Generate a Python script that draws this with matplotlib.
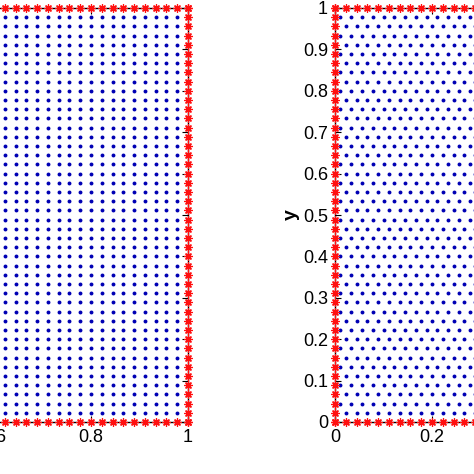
import numpy as np
import matplotlib.pyplot as plt

plt.rcParams['font.family'] = ['Liberation Sans', 'DejaVu Sans']

# mesh settings
n_div = 45
x_ticks = [0, 0.2, 0.4, 0.6, 0.8, 1]
y_ticks = [0, 0.1, 0.2, 0.3, 0.4, 0.5, 0.6, 0.7, 0.8, 0.9, 1]
x_labels = ['0', '0.2', '0.4', '0.6', '0.8', '1']
y_labels = ['0', '0.1', '0.2', '0.3', '0.4', '0.5', '0.6', '0.7', '0.8', '0.9', '1']

h = 1.0 / n_div
edge = np.linspace(0, 1, n_div + 1)
inner = edge[1:-1]

# boundary nodes (same on both panels)
bx = np.concatenate([edge, edge, np.zeros(n_div + 1), np.ones(n_div + 1)])
by = np.concatenate([np.zeros(n_div + 1), np.ones(n_div + 1), edge, edge])

# left panel: regular interior grid
gx, gy = np.meshgrid(inner, inner)
ux, uy = gx.ravel(), gy.ravel()

# right panel: staggered interior rows
sx, sy = [], []
for j, yv in enumerate(inner, start=1):
    if j % 2 == 1:
        xs = inner
    else:
        xs = edge[:-1] + h / 2
    sx.extend(xs)
    sy.extend([yv] * len(xs))

W = H = 474
fig = plt.figure(figsize=(W / 100, H / 100), dpi=100)
ax_l = fig.add_axes([-297 / W, 52 / H, 485 / W, 414 / H])
ax_r = fig.add_axes([335 / W, 52 / H, 485 / W, 414 / H])


def draw(ax, px, py):
    ax.plot(px, py, 'o', color='#0000b4', ms=2.8, mew=0, zorder=2)
    ax.plot(bx, by, linestyle='none', marker=(8, 2, 0), color='#ff1010',
            ms=5.8, mew=0.9, clip_on=False, zorder=4)
    ax.set_xlim(0, 1)
    ax.set_ylim(0, 1)
    ax.set_xticks(x_ticks)
    ax.set_xticklabels(x_labels)
    ax.set_yticks(y_ticks)
    ax.set_yticklabels(y_labels)
    ax.tick_params(direction='in', length=4, width=0.8, top=True, right=True,
                   labelsize=13, pad=5)
    for s in ax.spines.values():
        s.set_linewidth(1)
        s.set_zorder(3)


draw(ax_l, ux, uy)
draw(ax_r, sx, sy)
ax_r.set_ylabel('y', fontsize=14, fontweight='bold', labelpad=2)
# left panel's y labels fall outside the cropped picture
ax_l.tick_params(labelleft=False)

fig.savefig('out.png', dpi=100)
